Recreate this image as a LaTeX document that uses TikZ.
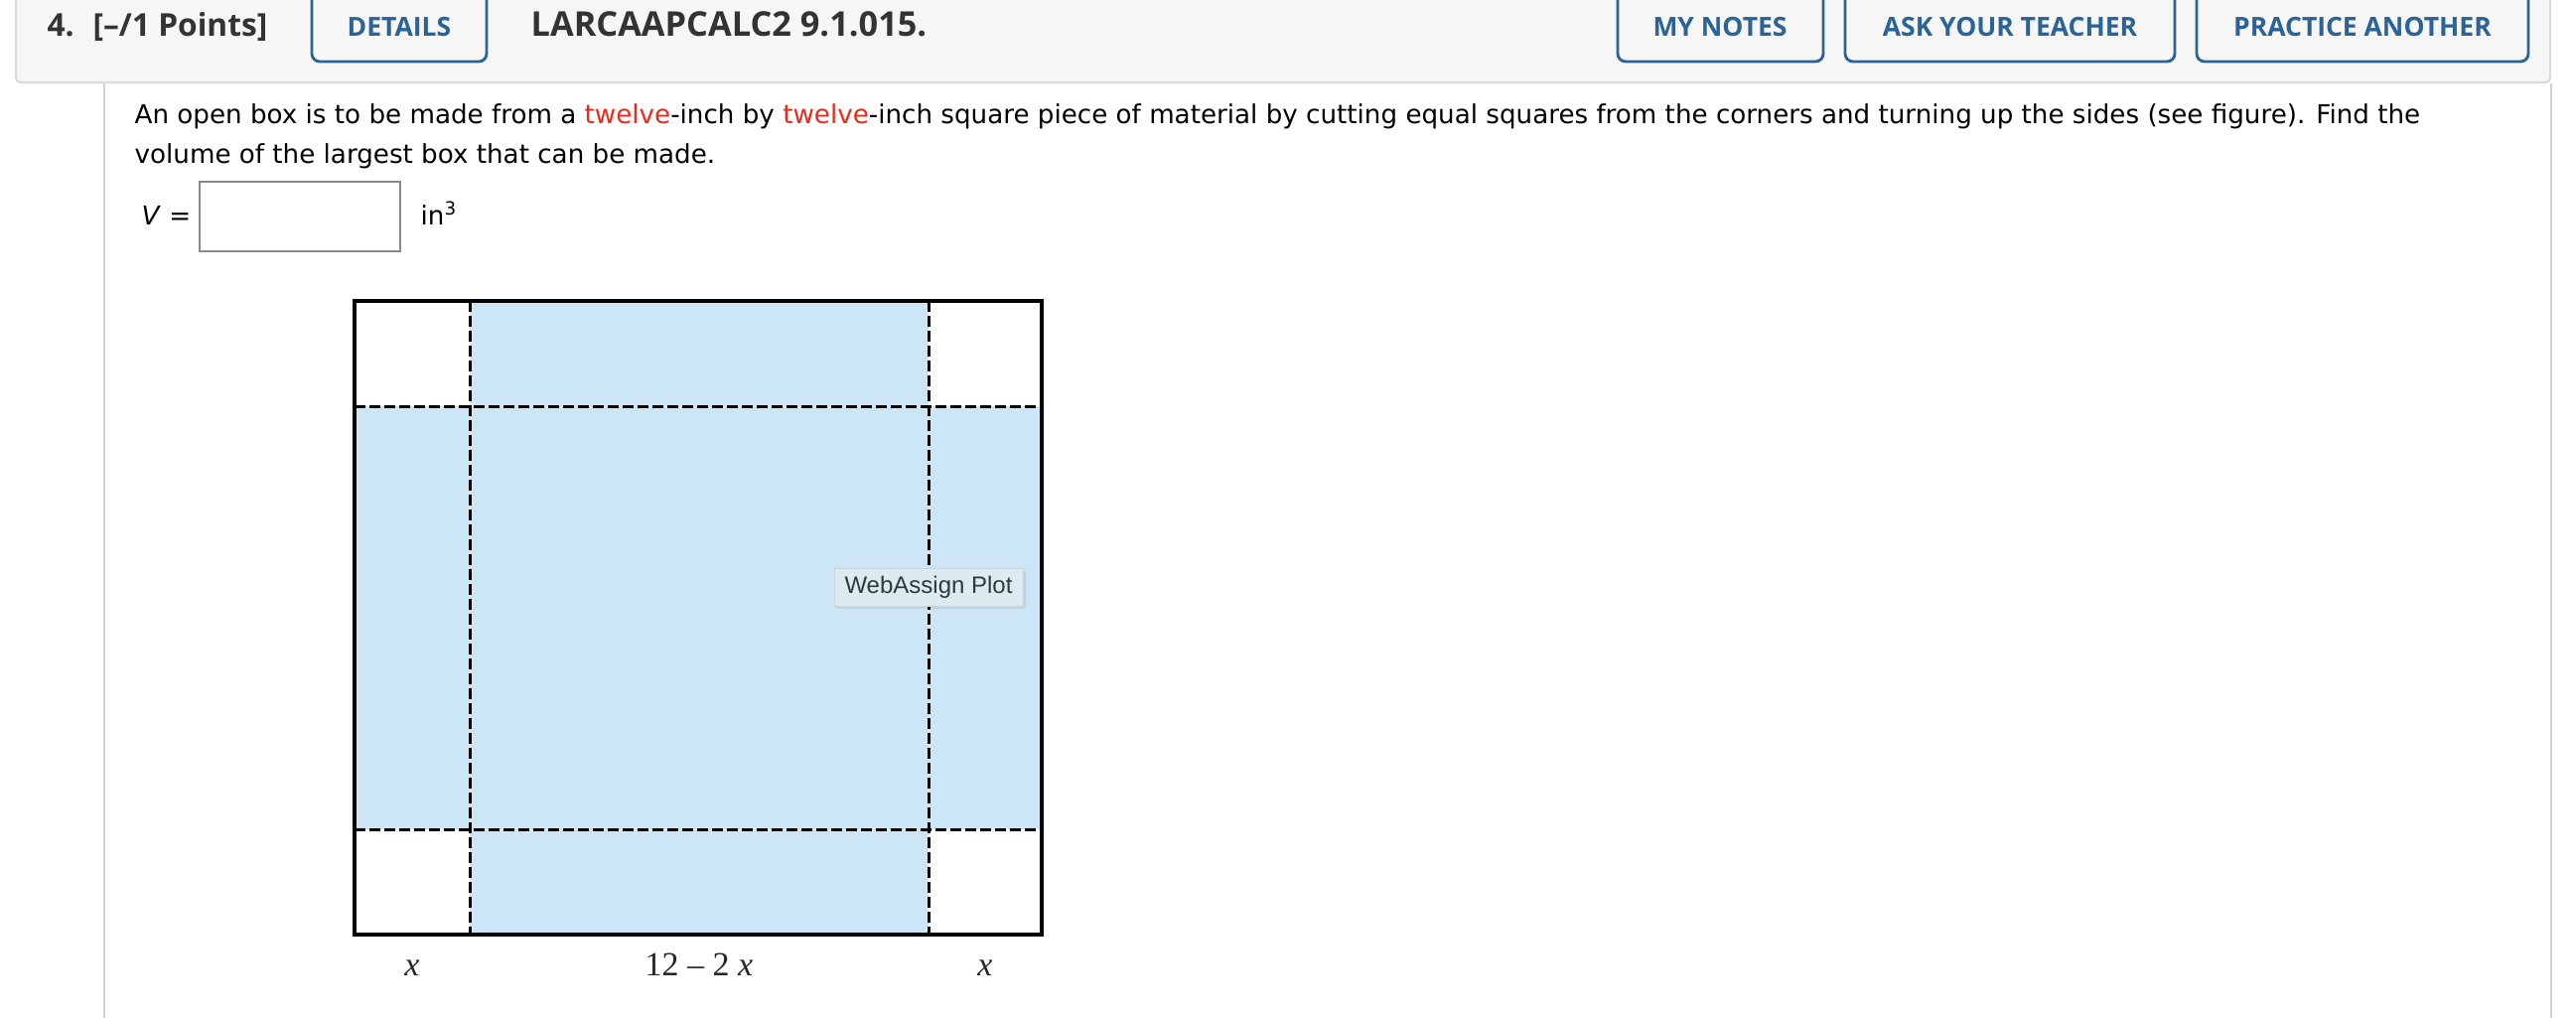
\documentclass[tikz,border=0pt]{standalone}
\usepackage{fontspec}
\setmainfont{DejaVu Sans}
\newfontfamily\hdrfont{Open Sans}
\newfontfamily\tipfont{Liberation Sans}
\newfontfamily\lblfont{Liberation Serif}
\definecolor{btnblue}{RGB}{44,99,150}
\definecolor{panelbg}{RGB}{246,246,246}
\definecolor{panelline}{RGB}{218,218,218}
\definecolor{hdrtext}{RGB}{51,51,51}
\definecolor{redword}{RGB}{229,45,30}
\definecolor{sheetblue}{RGB}{205,230,247}
\definecolor{tipbg}{RGB}{221,234,242}
\definecolor{tiptext}{RGB}{46,58,64}
\definecolor{boxline}{RGB}{138,138,138}
\definecolor{sideline}{RGB}{210,210,210}
\tikzset{
  btnbox/.style={draw=btnblue, line width=0.85pt, rounded corners=2.4pt, fill=panelbg},
  btntext/.style={inner sep=0pt, anchor=base, text=btnblue, font=\hdrfont\bfseries\fontsize{7.95}{10}\selectfont},
  hdrtxt/.style={inner sep=0pt, anchor=base west, text=hdrtext, font=\hdrfont\bfseries\fontsize{9.5}{11}\selectfont},
  bodytxt/.style={inner sep=0pt, anchor=base west, text=black, font=\fontsize{7.85}{9}\selectfont},
  fold/.style={line width=0.9pt, dash pattern=on 3.2pt off 1.3pt},
  lbl/.style={inner sep=0pt, anchor=base, font=\lblfont\fontsize{10.2}{12}\selectfont, text=black!85}
}
\begin{document}
\begin{tikzpicture}[x=0.3pt,y=-0.3pt]
\useasboundingbox[fill=white] (0,0) rectangle (2594,1024);
% header panel
\draw[panelline, fill=panelbg, line width=0.6pt, rounded corners=1.5pt] (16,-20) rectangle (2568,83);
% content side borders
\draw[sideline, line width=0.6pt] (105,84) -- (105,1030);
\draw[sideline, line width=0.6pt] (2569,84) -- (2569,1030);
% header texts
\node[hdrtxt] (num) at (47,36) {4.};
\node[hdrtxt] (pts) at (93,36) {[–/1 Points]};
\node[hdrtxt, font=\hdrfont\bfseries\fontsize{10.3}{12}\selectfont] (code) at (534,36) {LARCAAPCALC2 9.1.015.};
% buttons
\draw[btnbox] (314,-20) rectangle (490,62);
\node[btntext] (details) at (402,36) {DETAILS};
\draw[btnbox] (1629,-20) rectangle (1836,62);
\node[btntext] (notes) at (1732,36) {MY NOTES};
\draw[btnbox] (1858,-20) rectangle (2190,62);
\node[btntext] (ask) at (2024,36) {ASK YOUR TEACHER};
\draw[btnbox] (2212,-20) rectangle (2546,62);
\node[btntext] (practice) at (2379,36) {PRACTICE ANOTHER};
% question text
\node[bodytxt] (line1) at (135,124) {An open box is to be made from a \textcolor{redword}{twelve}-inch by \textcolor{redword}{twelve}-inch square piece of material by cutting equal squares from the corners and turning up the sides (see figure). Find the};
\node[bodytxt] (line2) at (135,164) {volume of the largest box that can be made.};
\node[bodytxt] (veq) at (142,226) {\textit{V} =};
\draw[boxline, line width=0.7pt] (201,183) rectangle (403,253);
\node[bodytxt] (unit) at (423,226) {in\textsuperscript{3}};
% figure
\fill[sheetblue] (357,303) rectangle (1049,941);
\fill[white] (357,303) rectangle (473,409);
\fill[white] (935,303) rectangle (1049,409);
\fill[white] (357,835) rectangle (473,941);
\fill[white] (935,835) rectangle (1049,941);
\coordinate (l1) at (357,409); \coordinate (r1) at (1049,409);
\coordinate (l2) at (357,835); \coordinate (r2) at (1049,835);
\coordinate (t1) at (473,303); \coordinate (b1) at (473,941);
\coordinate (t2) at (935,303); \coordinate (b2) at (935,941);
\draw[fold] (l1) -- (r1);
\draw[fold] (l2) -- (r2);
\draw[fold] (t1) -- (b1);
\draw[fold] (t2) -- (b2);
\draw[line width=1.1pt] (357,303) rectangle (1049,941);
% tooltip
\fill[black, opacity=0.08] (842,575) rectangle (1033,613);
\draw[fill=tipbg, draw=tipbg!80!gray, line width=0.3pt] (840,572) rectangle (1030,610);
\node[inner sep=0pt, text=tiptext, font=\tipfont\fontsize{7.2}{9}\selectfont] (tip) at (935,591) {WebAssign Plot};
% labels
\node[lbl] (xl) at (415,982) {\textit{x}};
\node[lbl] (mid) at (704,982) {12 – 2 \textit{x}};
\node[lbl] (xr) at (992,982) {\textit{x}};
\end{tikzpicture}
\end{document}
